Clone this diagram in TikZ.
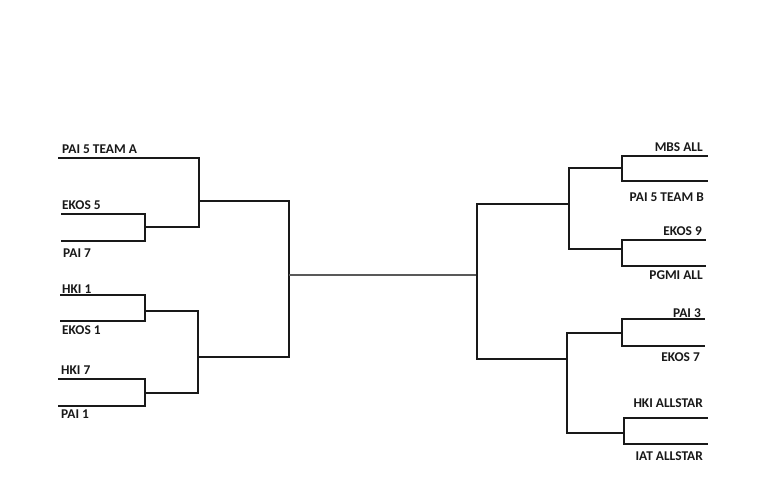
\documentclass[tikz,border=0pt]{standalone}
\usepackage{fontspec}
\setmainfont{Carlito}
\begin{document}
\begin{tikzpicture}[x=1pt,y=-1pt,
  br/.style={line width=1.8pt,black!90,line cap=rect},
  lab/.style={font=\bfseries\fontsize{13.4}{15}\selectfont,inner sep=0pt,text=black!90}]
\useasboundingbox (0,0) rectangle (768,489);
% ---------- left, upper ----------
\node[lab,anchor=base west] (tA) at (62,154) {PAI 5 TEAM A};
\node[lab,anchor=base west] (t5) at (62,210) {EKOS 5};
\node[lab,anchor=base west] (t7) at (63,257) {PAI 7};
\coordinate (a1) at (59,158); \coordinate (a1e) at (199,158);
\coordinate (a2) at (62,214); \coordinate (a2e) at (145,214);
\coordinate (a3) at (62,241); \coordinate (a3e) at (145,241);
\coordinate (m23) at (145,227); \coordinate (m23e) at (199,227);
\coordinate (mA) at (199,201); \coordinate (mAe) at (289,201);
\draw[br] (a1) -- (a1e) -- (m23e);
\draw[br] (a2) -- (a2e) -- (a3e) -- (a3);
\draw[br] (m23) -- (m23e);
\draw[br] (mA) -- (mAe);
% ---------- left, lower ----------
\node[lab,anchor=base west] (h1) at (62,293) {HKI 1};
\node[lab,anchor=base west] (e1) at (62,334) {EKOS 1};
\node[lab,anchor=base west] (h7) at (61,374) {HKI 7};
\node[lab,anchor=base west] (p1) at (61,418) {PAI 1};
\coordinate (b1) at (61,295); \coordinate (b1e) at (145,295);
\coordinate (b2) at (61,321); \coordinate (b2e) at (145,321);
\coordinate (mb12) at (145,311); \coordinate (mb12e) at (198,311);
\coordinate (b3) at (59,379); \coordinate (b3e) at (145,379);
\coordinate (b4) at (59,406); \coordinate (b4e) at (145,406);
\coordinate (mb34) at (145,393); \coordinate (mb34e) at (198,393);
\coordinate (mB) at (198,357); \coordinate (mBe) at (289,357);
\draw[br] (b1) -- (b1e) -- (b2e) -- (b2);
\draw[br] (b3) -- (b3e) -- (b4e) -- (b4);
\draw[br] (mb12) -- (mb12e) -- (mb34e) -- (mb34);
\draw[br] (mB) -- (mBe);
\draw[br] (mAe) -- (mBe);
% ---------- centre ----------
\coordinate (cL) at (289,275); \coordinate (cR) at (477,275);
\draw[line width=1.6pt,black!65] (cL) -- (cR);
% ---------- right, upper ----------
\node[lab,anchor=base east] (mbs) at (703,152) {MBS ALL};
\node[lab,anchor=base east] (p5b) at (704,201) {PAI 5 TEAM B};
\node[lab,anchor=base east] (e9) at (702,236) {EKOS 9};
\node[lab,anchor=base east] (pg) at (703,279) {PGMI ALL};
\coordinate (r1) at (707,156); \coordinate (r1e) at (622,156);
\coordinate (r2) at (707,181); \coordinate (r2e) at (622,181);
\coordinate (mr12) at (622,168); \coordinate (mr12e) at (569,168);
\coordinate (r3) at (705,240); \coordinate (r3e) at (622,240);
\coordinate (r4) at (705,266); \coordinate (r4e) at (622,266);
\coordinate (mr34) at (622,249); \coordinate (mr34e) at (569,249);
\coordinate (mC) at (568,204); \coordinate (mCe) at (477,204);
\draw[br] (r1) -- (r1e) -- (r2e) -- (r2);
\draw[br] (r3) -- (r3e) -- (r4e) -- (r4);
\draw[br] (mr12) -- (mr12e) -- (mr34e) -- (mr34);
\draw[br] (mC) -- (mCe);
% ---------- right, lower ----------
\node[lab,anchor=base east] (p3) at (701,317) {PAI 3};
\node[lab,anchor=base east] (e7) at (700,361) {EKOS 7};
\node[lab,anchor=base east] (hka) at (703,407) {HKI ALLSTAR};
\node[lab,anchor=base east] (iat) at (703,460) {IAT ALLSTAR};
\coordinate (s1) at (704,319); \coordinate (s1e) at (622,319);
\coordinate (s2) at (704,346); \coordinate (s2e) at (622,346);
\coordinate (ms12) at (622,333); \coordinate (ms12e) at (567,333);
\coordinate (s3) at (707,418); \coordinate (s3e) at (624,418);
\coordinate (s4) at (707,444); \coordinate (s4e) at (624,444);
\coordinate (ms34) at (624,433); \coordinate (ms34e) at (567,433);
\coordinate (mD) at (567,359); \coordinate (mDe) at (477,359);
\draw[br] (s1) -- (s1e) -- (s2e) -- (s2);
\draw[br] (s3) -- (s3e) -- (s4e) -- (s4);
\draw[br] (ms12) -- (ms12e) -- (ms34e) -- (ms34);
\draw[br] (mD) -- (mDe);
\draw[br] (mCe) -- (mDe);
\end{tikzpicture}
\end{document}
